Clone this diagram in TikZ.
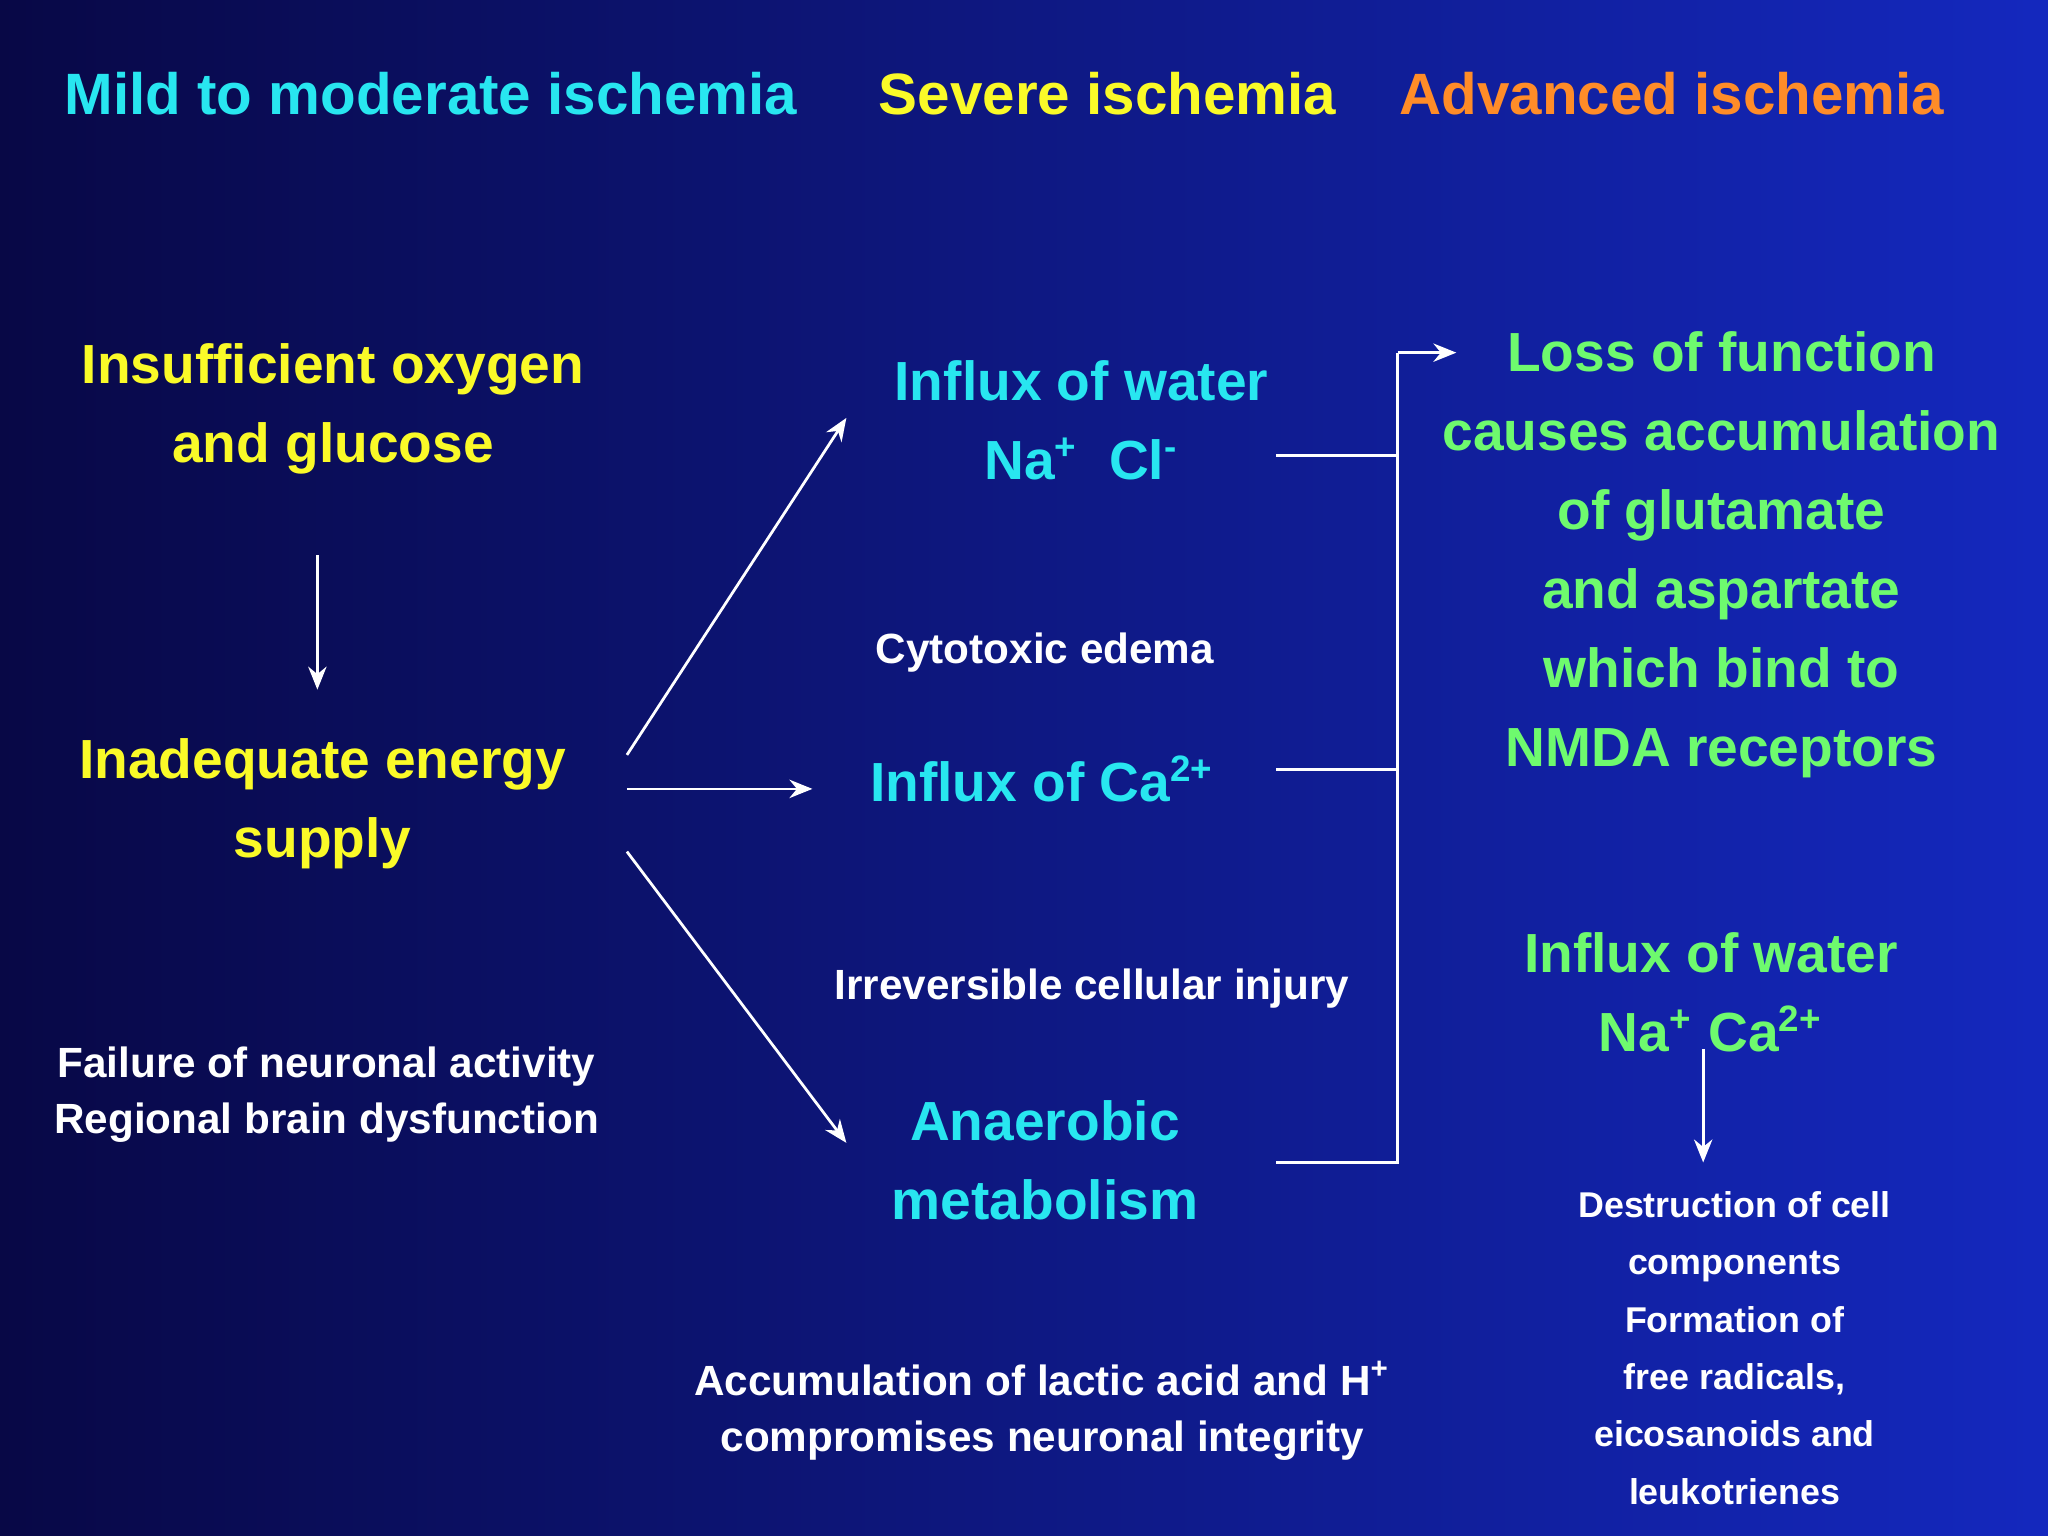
\documentclass[tikz,border=0pt]{standalone}
\usepackage{fontspec}
\setmainfont{Liberation Sans}
\usetikzlibrary{arrows.meta}
\definecolor{cy}{RGB}{40,230,240}
\definecolor{ye}{RGB}{250,250,40}
\definecolor{orn}{RGB}{255,140,40}
\definecolor{gr}{RGB}{110,250,110}
\definecolor{bgl}{RGB}{8,8,70}
\definecolor{bgr}{RGB}{20,40,190}
\begin{document}
\begin{tikzpicture}[x=0.01cm,y=-0.01cm,
  ttl/.style={align=center,font=\fontsize{12.7}{15}\selectfont\bfseries},
  big/.style={align=center,font=\fontsize{12}{17.2}\selectfont\bfseries},
  mid/.style={align=center,font=\fontsize{9.2}{12.2}\selectfont\bfseries,text=white},
  sml/.style={align=center,font=\fontsize{7.8}{12.5}\selectfont\bfseries,text=white},
  ln/.style={white,line width=0.6pt},
  arr/.style={ln,-{Stealth[length=5pt,width=4pt]}}]
\shade[left color=bgl,right color=bgr] (0,0) rectangle (1568,1176);
\useasboundingbox (0,0) rectangle (1568,1176);
\node[ttl,text=cy] (t1) at (330,72) {Mild to moderate ischemia};
\node[ttl,text=ye] (t2) at (848,72) {Severe ischemia};
\node[ttl,text=orn] (t3) at (1280,72) {Advanced ischemia};
\node[big,text=ye] (a) at (255,313) {Insufficient oxygen\\and glucose};
\node[big,text=ye] (b) at (247,615) {Inadequate energy\\supply};
\node[mid] (c) at (250,838) {Failure of neuronal activity\\Regional brain dysfunction};
\node[big,text=cy] (d) at (828,322) {Influx of water\\Na\textsuperscript{+}\ \ Cl\textsuperscript{-}};
\node[mid] (e) at (800,500) {Cytotoxic edema};
\node[big,text=cy] (f) at (798,596) {Influx of Ca\textsuperscript{2+}};
\node[mid] (g) at (836,757) {Irreversible cellular injury};
\node[big,text=cy] (h) at (800,888) {Anaerobic\\metabolism};
\node[mid] (i) at (798,1080) {Accumulation of lactic acid and H\textsuperscript{+}\\compromises neuronal integrity};
\node[big,text=gr] (j) at (1318,425) {Loss of function\\causes accumulation\\of glutamate\\and aspartate\\which bind to\\NMDA receptors};
\node[big,text=gr] (k) at (1310,760) {Influx of water\\Na\textsuperscript{+} Ca\textsuperscript{2+}};
\node[sml] (l) at (1328,1032) {Destruction of cell\\components\\Formation of\\free radicals,\\eicosanoids and\\leukotrienes};
\coordinate (a1) at (243,425); \coordinate (b0) at (243,528);
\draw[arr] (a1) -- (b0);
\coordinate (s1) at (480,578); \coordinate (s2) at (480,604); \coordinate (s3) at (480,652);
\coordinate (e1) at (648,320); \coordinate (e2) at (622,604); \coordinate (e3) at (648,875);
\draw[arr] (s1) -- (e1); \draw[arr] (s2) -- (e2); \draw[arr] (s3) -- (e3);
\coordinate (d1) at (977,349); \coordinate (d2) at (1070,349);
\coordinate (f1) at (977,589); \coordinate (f2) at (1070,589);
\coordinate (h1) at (977,890); \coordinate (h2) at (1070,890);
\coordinate (v0) at (1070,270); \coordinate (v1) at (1115,270);
\draw[ln] (d1) -- (d2); \draw[ln] (f1) -- (f2); \draw[ln] (h1) -- (h2) -- (v0);
\draw[arr] (v0) -- (v1);
\coordinate (k1) at (1304,803); \coordinate (l0) at (1304,890);
\draw[arr] (k1) -- (l0);
\end{tikzpicture}
\end{document}
